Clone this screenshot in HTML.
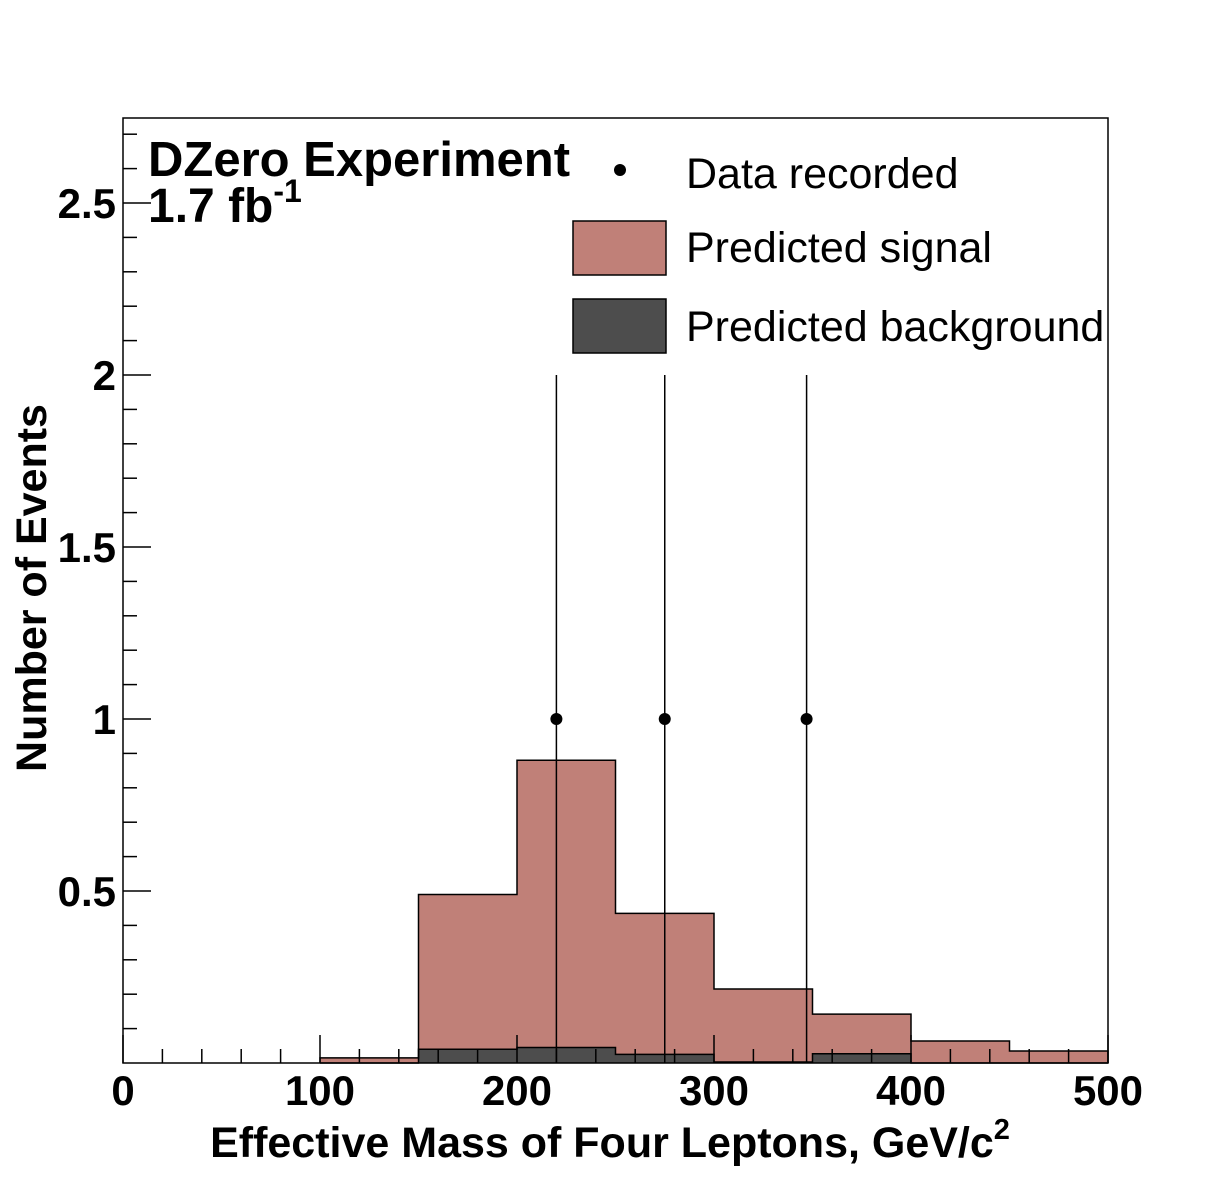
<!DOCTYPE html>
<html><head><meta charset="utf-8"><style>
body{margin:0;background:#fff}
svg{display:block;font-family:"Liberation Sans",Arial,sans-serif}
</style></head><body>
<svg id="chart" width="1231" height="1181" xmlns="http://www.w3.org/2000/svg">
<g id="bars"></g>
<g id="axes"></g>
<g id="data"></g>
<rect x="123" y="118" width="985" height="945" fill="none" stroke="#000" stroke-width="1.5"/>
<text x="148" y="176" font-size="49" font-weight="bold">DZero Experiment</text>
<text x="148" y="222" font-size="48" font-weight="bold">1.7 fb<tspan dy="-20" font-size="32">-1</tspan></text>
<circle cx="620" cy="170" r="6" fill="#000"/>
<text x="686" y="188" font-size="43">Data recorded</text>
<rect x="573" y="221" width="93" height="54" fill="#c08078" stroke="#000" stroke-width="1.5"/>
<text x="686" y="262" font-size="43">Predicted signal</text>
<rect x="573" y="299" width="93" height="54" fill="#4d4d4d" stroke="#000" stroke-width="1.5"/>
<text x="686" y="341" font-size="43">Predicted background</text>
<text x="610" y="1157" font-size="43" font-weight="bold" text-anchor="middle">Effective Mass of Four Leptons, GeV/c<tspan dy="-18" font-size="29">2</tspan></text>
<text transform="translate(46,588) rotate(-90)" font-size="43" font-weight="bold" text-anchor="middle">Number of Events</text>
</svg>
<script>
const binEdges=[100,150,200,250,300,350,400,450,500];
const signal=[0.015,0.49,0.88,0.435,0.215,0.142,0.064,0.035];
const background=[0,0.04,0.045,0.025,0.003,0.027,0,0];
const dataX=[220,275,347];
const dataY=[1,1,1];
const dataErr=[1,1,1];
const xTicks=[0,100,200,300,400,500];
const yTicks=[0.5,1,1.5,2,2.5];
const NS="http://www.w3.org/2000/svg";
const X=v=>123+v*985/500;
const Y=v=>1063-v*344;
function mk(t,a,p){const e=document.createElementNS(NS,t);for(const k in a)e.setAttribute(k,a[k]);p.appendChild(e);return e;}
const bars=document.getElementById('bars'),axes=document.getElementById('axes'),data=document.getElementById('data');
for(let i=0;i<signal.length;i++){
 const x0=X(binEdges[i]),x1=X(binEdges[i+1]);
 const r=mk('rect',{x:x0,y:Y(signal[i]),width:x1-x0,height:Y(0)-Y(signal[i]),fill:'#c08078'},bars);
 
 
 const b=mk('rect',{x:x0,y:Y(background[i]),width:x1-x0,height:Y(0)-Y(background[i]),fill:'#4d4d4d'},bars);
 
 
}
function outline(vals,name){
 let d='M'+X(binEdges[0])+','+Y(0);
 for(let i=0;i<vals.length;i++){d+=' L'+X(binEdges[i])+','+Y(vals[i])+' L'+X(binEdges[i+1])+','+Y(vals[i]);}
 d+=' L'+X(binEdges[vals.length])+','+Y(0);
 const p=mk('path',{d:d,fill:'none',stroke:'#000','stroke-width':1.5},bars);
 
 
}
outline(signal,'signal-outline');outline(background,'background-outline');
for(let i=0;i<dataX.length;i++){
 const l=mk('line',{x1:X(dataX[i]),x2:X(dataX[i]),y1:Y(dataY[i]-dataErr[i]),y2:Y(dataY[i]+dataErr[i]),stroke:'#000','stroke-width':1.5},data);
 
 
 const c=mk('circle',{cx:X(dataX[i]),cy:Y(dataY[i]),r:6,fill:'#000'},data);
 
 
}
for(let v=0;v<=500;v+=20){
 const maj=v%100===0;
 mk('line',{x1:X(v),x2:X(v),y1:1063,y2:1063-(maj?28:14),stroke:'#000','stroke-width':1.5},axes);
}
for(let k=1;k<=27;k++){
 const v=k/10,maj=k%5===0;
 mk('line',{x1:123,x2:123+(maj?28:14),y1:Y(v),y2:Y(v),stroke:'#000','stroke-width':1.5},axes);
}
xTicks.forEach(v=>{const t=mk('text',{x:X(v),y:1105,'font-size':42,'font-weight':'bold','text-anchor':'middle'},axes);t.textContent=v;
 
 });
yTicks.forEach(v=>{const t=mk('text',{x:116,y:Y(v)+15,'font-size':42,'font-weight':'bold','text-anchor':'end'},axes);t.textContent=v;
 
 });
</script>
</body></html>
